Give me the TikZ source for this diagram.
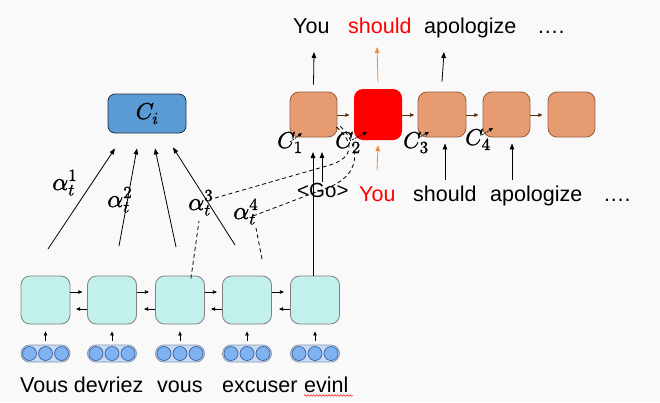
\documentclass[tikz,border=0pt]{standalone}
\usepackage{fontspec}
\setmainfont{Liberation Sans}
\newfontfamily\lmmfont[FakeBold=1.2]{Latin Modern Math}
\usetikzlibrary{arrows.meta,decorations.pathmorphing}
\definecolor{bgc}{HTML}{F9F9F9}
\definecolor{encfill}{HTML}{C2F0EA}
\definecolor{encline}{HTML}{808080}
\definecolor{pillfill}{HTML}{C9DAF2}
\definecolor{pillline}{HTML}{8497B0}
\definecolor{dotfill}{HTML}{7FB2F0}
\definecolor{dotline}{HTML}{3A5F9A}
\definecolor{decfill}{HTML}{E69B71}
\definecolor{decline}{HTML}{9C6548}
\definecolor{cifill}{HTML}{5B9BD5}
\definecolor{ciline}{HTML}{203040}
\definecolor{orng}{HTML}{F08A3C}
\definecolor{redc}{HTML}{FF0000}
\definecolor{brn}{HTML}{5A3015}
\newcommand\amlab[3]{{\fontsize{25}{28}\selectfont\lmmfont #1}\makebox[0pt][l]{\raisebox{9pt}{\fontsize{17}{17}\selectfont\lmmfont #3}}\raisebox{-5.5pt}{\fontsize{17}{17}\selectfont\lmmfont #2}}
\newcommand\cmlab[2]{{\fontsize{23}{25}\selectfont\lmmfont 𝐶}\raisebox{-5pt}{\fontsize{17}{17}\selectfont\lmmfont #2}}
\tikzset{
  encbox/.style={draw=encline, fill=encfill, rounded corners=9pt, minimum width=49pt, minimum height=48pt, inner sep=0pt, line width=0.8pt},
  pill/.style={draw=pillline, fill=pillfill, rounded corners=8.5pt, minimum width=49pt, minimum height=17pt, inner sep=0pt, line width=0.8pt},
  dot/.style={circle, draw=dotline, fill=dotfill, minimum size=14pt, inner sep=0pt, line width=0.7pt},
  decbox/.style={draw=decline, fill=decfill, rounded corners=9pt, minimum width=47pt, minimum height=45pt, inner sep=0pt, line width=0.9pt},
  redbox/.style={fill=redc, rounded corners=9pt, minimum width=48pt, minimum height=51pt, inner sep=0pt},
  cibox/.style={draw=ciline, fill=cifill, rounded corners=7pt, minimum width=78pt, minimum height=39pt, inner sep=0pt, line width=0.8pt},
  arr/.style={-{Triangle[length=6pt,width=4.5pt]}, line width=0.8pt},
  sarr/.style={-{Triangle[length=4pt,width=3.5pt]}, line width=0.7pt},
  word/.style={anchor=base west, inner sep=0pt, font=\fontsize{21.5}{24}\selectfont},
  mlab/.style={anchor=base west, inner sep=0pt},
  dsh/.style={dashed, dash pattern=on 4pt off 3pt, line width=0.8pt},
}
\begin{document}
\begin{tikzpicture}[x=1pt,y=-1pt]
\fill[bgc] (0,0) rectangle (660,402);
\useasboundingbox (0,0) rectangle (660,402);

% encoder boxes
\foreach \i/\x in {1/45.5,2/112,3/180,4/247,5/315}{
  \node[encbox] (e\i) at (\x,300) {};
  \node[pill] (p\i) at (\x,353.5) {};
  \node[dot] (q\i a) at (\x-16,353.5) {};
  \node[dot] (q\i b) at (\x,353.5) {};
  \node[dot] (q\i c) at (\x+16,353.5) {};
  \draw[sarr] ([yshift=4pt]p\i.north) -- ([yshift=-7pt]e\i.south);
}
\foreach \a/\b in {1/2,2/3,3/4,4/5}{
  \draw[sarr] ([yshift=8pt]e\a.east) -- ++(12,0);
  \draw[sarr] ([yshift=-9pt]e\b.west) -- ++(-11,0);
}

% encoder words
\node[word] (w1) at (20,392) {Vous devriez};
\node[word] (w2) at (157,392) {vous};
\node[word] (w3) at (222,392) {excuser};
\node[word] (w4) at (304,392) {evinl};
\draw[redc, line width=0.5pt, decorate, decoration={snake, amplitude=0.8pt, segment length=3pt}] ([yshift=-3pt]w4.south west) -- ([yshift=-3pt,xshift=4pt]w4.south east);

% context box
\node[cibox] (ci) at (147,113.5) {\cmlab{C}{𝑖}};

\coordinate (s1) at (48,249);
\coordinate (s2) at (119,246);
\coordinate (s3) at (176,247);
\coordinate (s4) at (235,245);
\draw[arr] (s1) -- ([xshift=-32pt,yshift=-15pt]ci.south);
\draw[arr] (s2) -- ([xshift=-10pt,yshift=-15pt]ci.south);
\draw[arr] (s3) -- ([xshift=8pt,yshift=-15pt]ci.south);
\draw[arr] (s4) -- ([xshift=26pt,yshift=-14pt]ci.south);

\node[mlab] (a1) at (52,190) {\amlab{𝛼}{𝑡}{1}};
\node[mlab] (a2) at (107,207) {\amlab{𝛼}{𝑡}{2}};
\node[mlab] (a3) at (188,210) {\amlab{𝛼}{𝑡}{3}};
\node[mlab] (a4) at (233,219) {\amlab{𝛼}{𝑡}{4}};

% decoder boxes
\node[decbox] (d1) at (313.5,114.5) {};
\node[redbox] (d2) at (378,114.5) {};
\node[decbox, minimum width=48pt] (d3) at (442,114.5) {};
\node[decbox] (d4) at (506.5,114.5) {};
\node[decbox] (d5) at (571.5,114.5) {};
\foreach \a/\b in {d1/d2,d2/d3,d3/d4,d4/d5}{
  \draw[sarr, brn] (\a.east |- 0,115) -- ++(12,0);
}

% dashed attention lines
\coordinate (k1) at (335,126);
\coordinate (k2) at (339,125);
\draw[dsh] ([yshift=-3pt]e3.north east) ++(-14,0) -- (199,221);
\draw[dsh] (262,259) -- (256,228);
\draw[dsh] (215,198) -- (330,165) .. controls (356,157) and (353,140) .. (k1);
\draw[dsh] (253,216) -- (332,186) .. controls (364,171) and (358,143) .. (k2);

% outputs
\node[word] (o1) at (293,33) {You};
\node[word, text=redc] (o2) at (348,33) {should};
\node[word] (o3) at (424,33) {apologize};
\node[word] (o4) at (537,33) {….};
\draw[arr] ([yshift=7pt]d1.north) -- (314,52);
\draw[arr, orng] ([yshift=7pt]d2.north) -- (377,47);
\draw[arr] ([yshift=10pt]d3.north) -- (444,52);

% inputs
\node[word, font=\fontsize{20.5}{24}\selectfont] (g0) at (297,197) {<Go>};
\node[word, text=redc] (i1) at (359,201) {You};
\node[word] (i2) at (413,201) {should};
\node[word] (i3) at (490,201) {apologize};
\node[word] (i4) at (603,201) {….};
\draw[arr] (e5.north -| 313,0) -- (313,152);
\draw[arr] (322,182) -- (322,152);
\draw[arr, orng] (377,170) -- ([yshift=-5pt]d2.south);
\draw[arr] (445,180) -- ([xshift=3pt,yshift=-6pt]d3.south);
\draw[arr] (512,180) -- ([xshift=5.5pt,yshift=-6pt]d4.south);

% C labels
\node[mlab] (c1) at (277,148) {\cmlab{C}{1}};
\node[mlab] (c2) at (335,148) {\cmlab{C}{2}};
\node[mlab] (c3) at (403,148) {\cmlab{C}{3}};
\node[mlab] (c4) at (465,145) {\cmlab{C}{4}};
\draw[sarr, dashed, dash pattern=on 2pt off 1pt] (290,142) -- (302,133);
\draw[sarr, dashed, dash pattern=on 2pt off 1pt] (352,140) -- (367,132);
\draw[sarr, dashed, dash pattern=on 2pt off 1pt] (418,138) -- (429,132);
\draw[sarr, dashed, dash pattern=on 2pt off 1pt] (482,135) -- (493,128);
\end{tikzpicture}
\end{document}
